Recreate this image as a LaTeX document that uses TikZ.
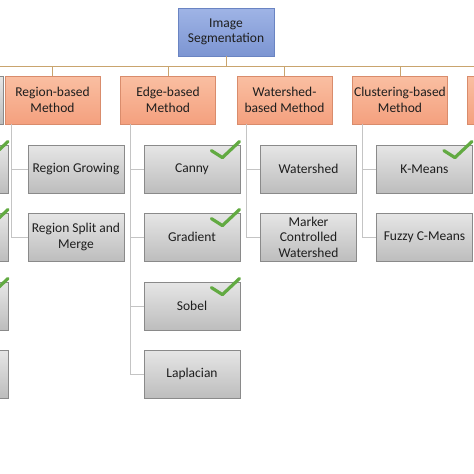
\documentclass[tikz,border=0pt]{standalone}
\usepackage{fontspec}
\setmainfont{Carlito}
\definecolor{bluefillT}{HTML}{9FB4E6}
\definecolor{bluefillB}{HTML}{7C95D2}
\definecolor{blueline}{HTML}{6A84C2}
\definecolor{orT}{HTML}{FABFA2}
\definecolor{orB}{HTML}{F4A07E}
\definecolor{orline}{HTML}{D98C6C}
\definecolor{grT}{HTML}{E6E6E6}
\definecolor{grB}{HTML}{BDBDBD}
\definecolor{grline}{HTML}{8A8A8A}
\definecolor{busc}{HTML}{C9A46E}
\definecolor{linkc}{HTML}{C4C4C4}
\definecolor{tickc}{HTML}{62AA42}
\definecolor{txt}{HTML}{1E1E1E}
\tikzset{
  boxbase/.style={rectangle, minimum width=95pt, minimum height=48pt, inner xsep=1pt, inner ysep=0pt,
    align=center, font=\fontsize{13.5}{15.5}\selectfont, text=txt, line width=0.8pt},
  topbox/.style={boxbase, draw=blueline, top color=bluefillT, bottom color=bluefillB},
  methbox/.style={boxbase, draw=orline, top color=orT, bottom color=orB},
  leafbox/.style={boxbase, minimum width=96pt, draw=grline, top color=grT, bottom color=grB},
  busline/.style={draw=busc, line width=0.9pt},
  linkline/.style={draw=linkc, line width=0.8pt},
  tick/.style={draw=tickc, line width=3.2pt, line cap=round, line join=round}
}
\newcommand{\tickat}[1]{\draw[tick] ([xshift=-29pt,yshift=-6pt]#1.north east) -- ([xshift=-18pt,yshift=-13pt]#1.north east) -- ([xshift=-1pt,yshift=3pt]#1.north east);}
\begin{document}
\begin{tikzpicture}[x=1pt,y=-1pt]
\useasboundingbox (0,0) rectangle (474,474);
\fill[white] (0,0) rectangle (474,474);
\clip (0,0) rectangle (474,474);
% top
\node[topbox, minimum width=96pt] (top) at (226,32) {Image\\Segmentation};
% methods
\node[leafbox] (lm) at (-45,100) {};
\node[methbox] (rb) at (52.5,100) {Region-based\\Method};
\node[methbox] (eb) at (168,100) {Edge-based\\Method};
\node[methbox] (wb) at (284.5,100) {Watershed-\\based Method};
\node[methbox] (cb) at (400,100) {Clustering-based\\Method};
\node[methbox] (rm) at (515,100) {};
% bus
\coordinate (busL) at (0,66);
\coordinate (busR) at (474,66);
\coordinate (topj) at (top.south |- busL);
\draw[busline] (busL) -- (busR);
\draw[busline] (top.south) -- (topj);
\foreach \n in {rb,eb,wb,cb}{
  \draw[busline] (\n.north) -- (\n.north |- busL);
}
% left partial leaves
\node[leafbox] (l1) at (-39.5,169) {};
\node[leafbox] (l2) at (-39.5,237) {};
\node[leafbox] (l3) at (-39.5,306) {};
\node[leafbox] (l4) at (-39.5,374) {};
% region-based
\coordinate (rbv) at ([xshift=7pt]rb.south west);
\node[leafbox] (rg) at (76,169) {Region Growing};
\node[leafbox] (rs) at (76,237) {Region Split and\\Merge};
\draw[linkline] (rbv) |- (rg.west);
\draw[linkline] (rbv) |- (rs.west);
% edge-based
\coordinate (ebv) at ([xshift=10pt]eb.south west);
\node[leafbox] (ca) at (192,169) {Canny};
\node[leafbox] (gr) at (192,237) {Gradient};
\node[leafbox] (so) at (192,306) {Sobel};
\node[leafbox] (la) at (192,374) {Laplacian};
\draw[linkline] (ebv) |- (ca.west);
\draw[linkline] (ebv) |- (gr.west);
\draw[linkline] (ebv) |- (so.west);
\draw[linkline] (ebv) |- (la.west);
% watershed-based
\coordinate (wbv) at ([xshift=10pt]wb.south west);
\node[leafbox] (ws) at (308.5,169) {Watershed};
\node[leafbox] (mc) at (308.5,237) {Marker\\Controlled\\Watershed};
\draw[linkline] (wbv) |- (ws.west);
\draw[linkline] (wbv) |- (mc.west);
% clustering-based
\coordinate (cbv) at ([xshift=10pt]cb.south west);
\node[leafbox] (km) at (424.5,169) {K-Means};
\node[leafbox] (fc) at (424.5,237) {Fuzzy C-Means};
\draw[linkline] (cbv) |- (km.west);
\draw[linkline] (cbv) |- (fc.west);
% ticks
\tickat{l1}
\tickat{l2}
\tickat{l3}
\tickat{ca}
\tickat{gr}
\tickat{so}
\tickat{km}
\end{tikzpicture}
\end{document}
